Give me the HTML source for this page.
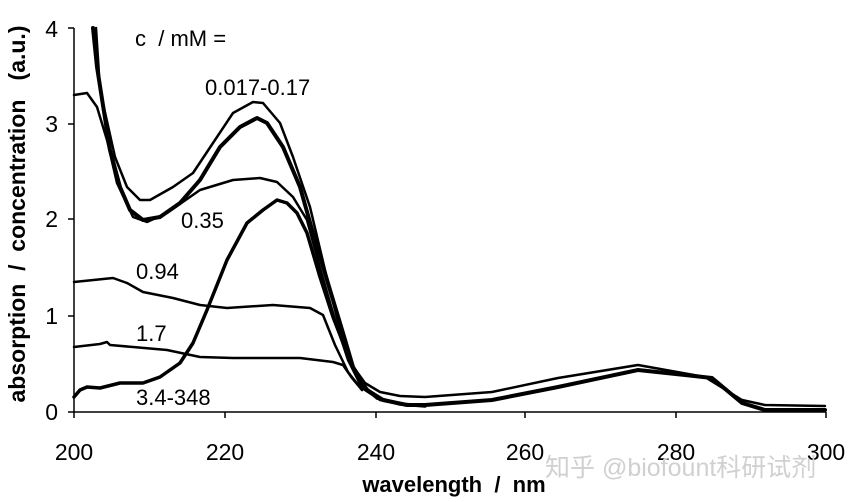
<!DOCTYPE html>
<html><head><meta charset="utf-8"><style>
html,body{margin:0;padding:0;background:#fff;}
svg{display:block;font-family:"Liberation Sans","Noto Sans CJK SC",sans-serif;}
text{white-space:pre;}
</style></head><body>
<svg width="850" height="502" viewBox="0 0 850 502" xmlns="http://www.w3.org/2000/svg">
<g stroke="#000" stroke-width="1.5" fill="none">
<line x1="74" y1="28" x2="74" y2="412"/>
<line x1="74" y1="412" x2="826" y2="412"/>
<line x1="68" y1="28" x2="74" y2="28"/>
<line x1="68" y1="124" x2="74" y2="124"/>
<line x1="68" y1="219" x2="74" y2="219"/>
<line x1="68" y1="316" x2="74" y2="316"/>
<line x1="68" y1="412" x2="74" y2="412"/>
<line x1="74" y1="412" x2="74" y2="418"/>
<line x1="225" y1="412" x2="225" y2="418"/>
<line x1="376" y1="412" x2="376" y2="418"/>
<line x1="525" y1="412" x2="525" y2="418"/>
<line x1="676" y1="412" x2="676" y2="418"/>
<line x1="826" y1="412" x2="826" y2="418"/>
</g>
<g stroke="#000" fill="none" stroke-linejoin="round" stroke-linecap="round">
<polyline stroke-width="4" points="93,28 97,67 110,150 120,187 130,210 143,220 160,217 180,203 200,180 220,147 240,127 257,118 267,123 283,147 300,187 313,233 330,290 343,333 353,367 367,390 383,400 407,405 425,405 492,400 558,387 638,370 685,375 712,378 742,403 765,410 825,410"/>
<polyline stroke-width="2.5" points="96,28 100,90 115,157 127,187 140,200 150,200 173,187 193,173 213,143 233,113 253,102 263,103 280,123 293,157 310,207 325,270 340,330 352,365 365,383 380,392 400,396 425,397 492,392 558,378 638,365 705,377 742,400 765,405 825,406"/>
<polyline stroke-width="2.5" points="74,95 87,93 97,107 107,140 117,183 133,217 147,222 167,213 200,190 233,180 260,178 277,182 293,197 307,220 320,268 335,320 348,360 362,388 380,400 407,405"/>
<polyline stroke-width="2.5" points="74,282 113,278 127,283 143,292 173,298 200,305 227,308 273,305 310,308 323,315 335,345 348,372 362,390"/>
<polyline stroke-width="2.5" points="74,347 100,344 107,342 110,345 133,347 167,350 200,357 233,358 300,358 333,362 343,365 352,378 362,390"/>
<polyline stroke-width="3.5" points="74,397 80,390 87,387 100,388 120,383 143,383 160,377 180,363 193,343 207,310 227,260 247,223 263,210 277,200 287,203 297,213 307,233 320,277 333,317 347,353 360,383 377,398 400,404 425,406"/>
</g>
<g font-size="22" fill="#000">
<text x="135" y="46">c  / mM =</text>
<text x="205" y="95">0.017-0.17</text>
<text x="181" y="228">0.35</text>
<text x="136" y="279">0.94</text>
<text x="136" y="341">1.7</text>
<text x="136" y="405">3.4-348</text>
<g text-anchor="end" font-size="23">
<text x="58" y="37">4</text>
<text x="58" y="132">3</text>
<text x="58" y="227">2</text>
<text x="58" y="324">1</text>
<text x="58" y="420">0</text>
</g>
<g text-anchor="middle" font-size="23">
<text x="74" y="460">200</text>
<text x="225" y="460">220</text>
<text x="376" y="460">240</text>
<text x="525" y="460">260</text>
<text x="676" y="460">280</text>
<text x="826" y="460">300</text>
</g>
<g text-anchor="middle" font-weight="bold" font-size="22">
<text x="454" y="492">wavelength  /  nm</text>
<text transform="translate(25,214) rotate(-90)" font-size="23">absorption  /  concentration   (a.u.)</text>
</g>
<text x="545" y="476" fill="#d0d0d0" font-size="25">知乎 @biofount科研试剂</text>
</g>
</svg>
</body></html>
